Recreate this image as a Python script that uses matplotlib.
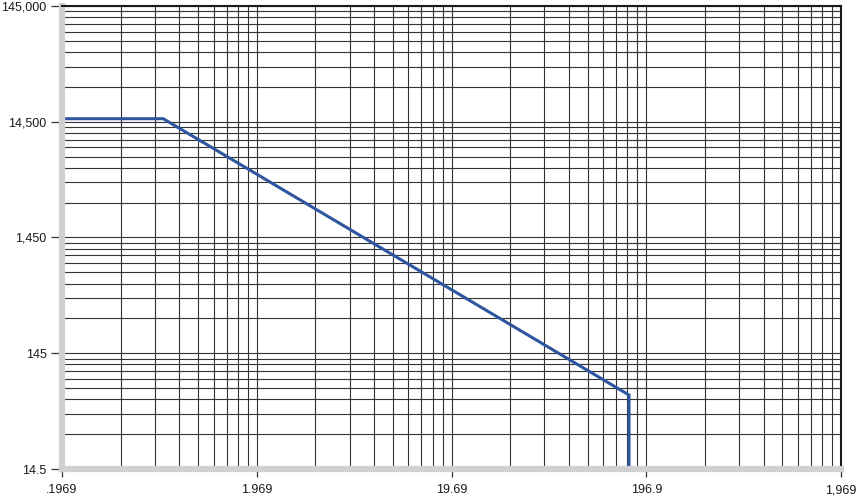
import matplotlib
matplotlib.use("Agg")
import matplotlib.pyplot as plt
from matplotlib.ticker import FixedLocator, NullFormatter

# axis decades as labelled on the chart
x_ticks = [0.1969, 1.969, 19.69, 196.9, 1969]
x_labels = [".1969", "1.969", "19.69", "196.9", "1,969"]
y_ticks = [14.5, 145, 1450, 14500, 145000]
y_labels = ["14.5", "145", "1,450", "14,500", "145,000"]

# curve
curve_x = [0.1969, 0.652, 160.6, 160.6]
curve_y = [15400, 15400, 63.2, 14.5]

plt.rcParams["font.family"] = ["Liberation Sans", "DejaVu Sans"]

fig = plt.figure(figsize=(8.6, 4.97), dpi=100)
ax = fig.add_axes([62 / 860, 1 - 469 / 497, 779 / 860, 463 / 497])

ax.set_xscale("log")
ax.set_yscale("log")
ax.set_xlim(x_ticks[0], x_ticks[-1])
ax.set_ylim(y_ticks[0], y_ticks[-1])

x_minor = [m * t for t in x_ticks[:-1] for m in range(2, 10)]
y_minor = [m * t for t in y_ticks[:-1] for m in range(2, 10)]

ax.xaxis.set_major_locator(FixedLocator(x_ticks))
ax.xaxis.set_minor_locator(FixedLocator(x_minor))
ax.yaxis.set_major_locator(FixedLocator(y_ticks))
ax.yaxis.set_minor_locator(FixedLocator(y_minor))
ax.set_xticklabels(x_labels)
ax.set_yticklabels(y_labels)
ax.xaxis.set_minor_formatter(NullFormatter())
ax.yaxis.set_minor_formatter(NullFormatter())

ax.grid(which="both", color="#333333", linewidth=0.8)
ax.set_axisbelow(True)

ax.plot(curve_x, curve_y, color="#2d55a0", linewidth=2.2, solid_joinstyle="miter", zorder=2)

ax.tick_params(which="major", direction="out", width=0.9, color="#333333",
               labelsize=9, labelcolor="#1a1a1a")
ax.tick_params(axis="x", which="major", length=5.8, pad=5.2)
ax.tick_params(axis="y", which="major", length=8, pad=3.2)
ax.tick_params(which="minor", length=0)

for side in ("left", "bottom"):
    ax.spines[side].set_color("#d0d0d0")
    ax.spines[side].set_linewidth(4.5)
    ax.spines[side].set_zorder(3)
for side in ("top", "right"):
    ax.spines[side].set_color("#1a1a1a")
    ax.spines[side].set_linewidth(1.5)
    ax.spines[side].set_zorder(3)

fig.savefig("out.png", dpi=100)
